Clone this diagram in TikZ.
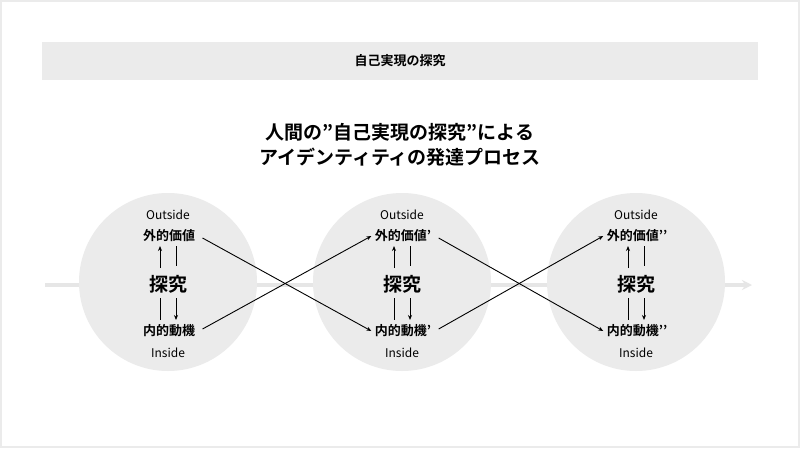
\documentclass[tikz,border=0pt]{standalone}
\usepackage{fontspec}
\setmainfont{Noto Sans CJK JP}
\newfontfamily\jpb{Noto Sans CJK JP Bold}
\usetikzlibrary{arrows.meta}
\definecolor{cbg}{HTML}{EBEBEB}
\definecolor{cline}{HTML}{E6E6E6}
\tikzset{x=1pt,y=-1pt,
 circ/.style={circle,fill=cbg,minimum size=178pt,inner sep=0},
 en/.style={font=\fontsize{12}{12}\selectfont},
 jp/.style={font=\jpb\fontsize{13}{13}\selectfont},
 big/.style={font=\jpb\fontsize{19}{19}\selectfont},
 ar/.style={-{Stealth[length=5pt,width=4pt]},line width=0.9pt},
 ln/.style={line width=0.9pt}}
\begin{document}
\begin{tikzpicture}
\useasboundingbox (0,0) rectangle (800,448);
\fill[white] (0,0) rectangle (800,448);
\draw[cbg,line width=2pt] (1,1) rectangle (799,447);
\node[fill=cbg,minimum width=716pt,minimum height=38pt,inner sep=0,font=\jpb\fontsize{13}{13}\selectfont] (banner) at (400,61) {自己実現の探究};
\node[font=\jpb\fontsize{19}{19}\selectfont,align=center] (title) at (400,145) {人間の”自己実現の探究”による\\[6pt]アイデンティティの発達プロセス};
\coordinate (ls) at (45,285); \coordinate (le) at (752,285);
\draw[cline,line width=4pt,-{Stealth[length=10pt,width=10pt]}] (ls) -- (le);
\foreach \i/\cx/\pr in {1/168/,2/402/’,3/636/’’}{
 \node[circ] (c\i) at (\cx,282) {};
 \node[en] (o\i) at (\cx,215) {Outside};
 \node[jp] (v\i) at (\cx+1,236) {外的価値\pr};
 \node[big] (t\i) at (\cx,284) {探究};
 \node[jp] (m\i) at (\cx+1,331) {内的動機\pr};
 \node[en] (n\i) at (\cx,353) {Inside};
 \draw[ar] (\cx-8,268) -- (\cx-8,246);
 \draw[ln] (\cx+8,246) -- (\cx+8,266);
 \draw[ar] (\cx+8,298) -- (\cx+8,320);
 \draw[ln] (\cx-8,298) -- (\cx-8,320);
}
\draw[ar] (v1.east)++(4,2) coordinate (a1) -- (m2.west);
\draw[ar] (m1.east)++(4,-2) coordinate (a2) -- (v2.west);
\draw[ar] (v2.east)++(4,2) coordinate (a3) -- (m3.west);
\draw[ar] (m2.east)++(4,-2) coordinate (a4) -- (v3.west);
\end{tikzpicture}
\end{document}
